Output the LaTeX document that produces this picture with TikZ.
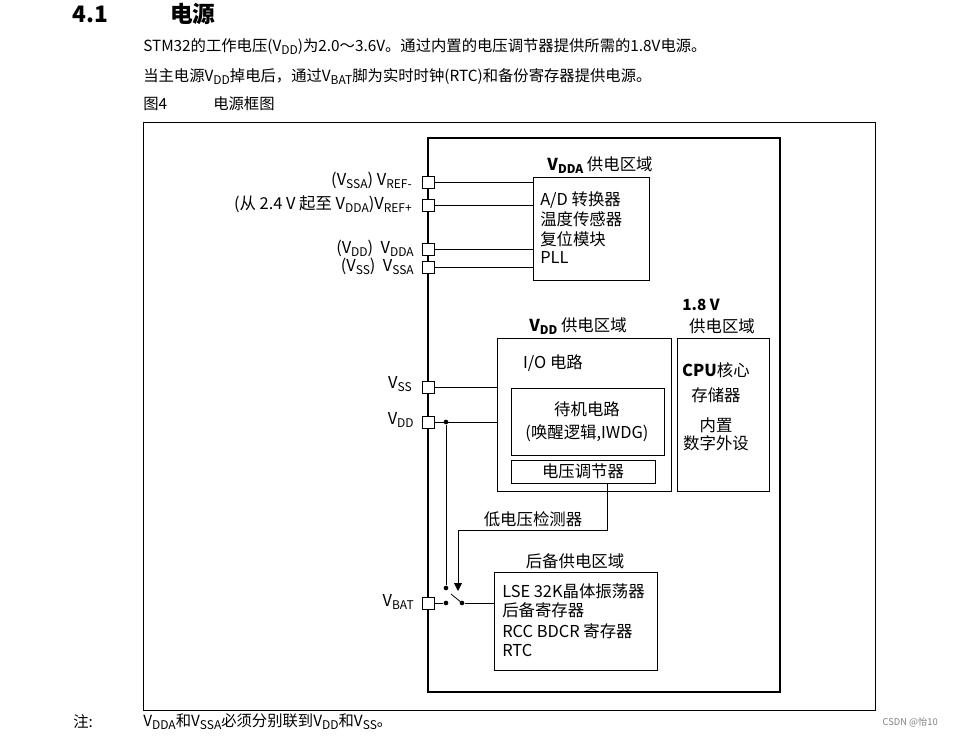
\documentclass[tikz,border=0pt]{standalone}
\usepackage{fontspec}
\setmainfont{Noto Sans CJK SC}
\usetikzlibrary{arrows.meta}
\newcommand{\vsub}[2]{#1\raisebox{-0.35ex}{\fontsize{9}{9}\selectfont #2}}
\begin{document}
\begin{tikzpicture}[x=0.75pt,y=-0.75pt,
  txt/.style={inner sep=0pt,font=\fontsize{11.5}{13}\selectfont},
  lbl/.style={txt,font=\fontsize{12.3}{14}\selectfont},
  box/.style={draw,line width=0.6pt},
  pin/.style={draw,fill=white,line width=0.6pt,minimum size=9pt,inner sep=0pt},
  wire/.style={line width=0.6pt},
  dot/.style={circle,fill,inner sep=0pt,minimum size=3.5pt}]
\useasboundingbox (0,0) rectangle (953,737);
% header
\node[txt,anchor=west,font=\bfseries\fontsize{17}{20}\selectfont] (h1) at (72,14) {4.1};
\node[txt,anchor=west,font=\bfseries\fontsize{17}{20}\selectfont] (h2) at (170,14) {电源};
\node[txt,anchor=west] (t1) at (143,47) {STM32的工作电压(\vsub{V}{DD})为2.0～3.6V。通过内置的电压调节器提供所需的1.8V电源。};
\node[txt,anchor=west] (t2) at (143,77) {当主电源\vsub{V}{DD}掉电后，通过\vsub{V}{BAT}脚为实时时钟(RTC)和备份寄存器提供电源。};
\node[txt,anchor=west] (f1) at (143,104) {图4};
\node[txt,anchor=west] (f2) at (213,104) {电源框图};
% frames
\draw[line width=0.6pt] (143,122) rectangle (875,710);
\draw[line width=1.6pt] (428,138) rectangle (780,692);
% ADC domain
\node[box,minimum width=87pt,minimum height=77pt,anchor=north west] (adc) at (533,177) {};
\node[lbl,anchor=west] at (540,200) {A/D 转换器};
\node[lbl,anchor=west] at (540,219) {温度传感器};
\node[lbl,anchor=west] at (540,239) {复位模块};
\node[lbl,anchor=west] at (540,257) {PLL};
\node[lbl] (vdda) at (600,165) {\textbf{\vsub{V}{DDA}} 供电区域};
% pins
\foreach \n/\y in {p1/182,p2/205,p3/249,p4/267,p5/387,p6/422,p7/603}
  \node[pin] (\n) at (428,\y) {};
\foreach \n in {p1,p2,p3,p4} \draw[wire] (\n.east) -- (\n.east -| adc.west);
\node[lbl,anchor=east] at (412,180) {(\vsub{V}{SSA})\ \vsub{V}{REF-}};
\node[lbl,anchor=east] at (412,204) {(从 2.4 V 起至 \vsub{V}{DDA})\vsub{V}{REF+}};
\node[lbl,anchor=east] at (414,248) {(\vsub{V}{DD})\ \ \vsub{V}{DDA}};
\node[lbl,anchor=east] at (414,266) {(\vsub{V}{SS})\ \ \vsub{V}{SSA}};
\node[lbl,anchor=east] at (412,384) {\vsub{V}{SS}};
\node[lbl,anchor=east] at (414,420) {\vsub{V}{DD}};
\node[lbl,anchor=east] at (414,602) {\vsub{V}{BAT}};
% VDD domain
\node[box,minimum width=130.5pt,minimum height=114.75pt,anchor=north west] (vdd) at (497,338) {};
\node[lbl] at (578,326) {\textbf{\vsub{V}{DD}} 供电区域};
\node[lbl] at (553,363) {I/O 电路};
\node[box,minimum width=114.75pt,minimum height=50pt,anchor=north west] (stb) at (511,388) {};
\node[lbl] at (587,409) {待机电路};
\node[lbl] at (587,433) {(唤醒逻辑,IWDG)};
\node[box,minimum width=108pt,minimum height=17pt,anchor=north west] (reg) at (511,460) {};
\node[lbl] at (583,471.5) {电压调节器};
% 1.8V
\node[box,minimum width=69pt,minimum height=114.75pt,anchor=north west] (cpu) at (677,338) {};
\node[lbl,font=\bfseries\fontsize{11.5}{13}\selectfont] at (701,305) {1.8 V};
\node[lbl] at (722,326) {供电区域};
\node[lbl] at (716,370) {\textbf{CPU}核心};
\node[lbl] at (716,395) {存储器};
\node[lbl] at (716,425) {内置};
\node[lbl] at (716,443) {数字外设};
% wires
\draw[wire] (p5.east) -- (p5.east -| vdd.west);
\draw[wire] (p6.east) -- (p6.east -| vdd.west);
\node[dot] (d1) at (446,422) {};
\node[dot] (d2) at (446,588) {};
\node[dot] (d3) at (446,603) {};
\node[dot] (d4) at (462,603) {};
\draw[wire] (d1) -- (d2);
\draw[wire] (p7.east) -- (d3);
\draw[wire] (d4.center) -- (451,594);
% backup
\node[box,minimum width=122pt,minimum height=73.5pt,anchor=north west] (bk) at (494,572) {};
\draw[wire] (d4) -- (d4 -| bk.west);
\node[lbl] at (575,561) {后备供电区域};
\node[lbl,anchor=west] at (502,591) {LSE 32K晶体振荡器};
\node[lbl,anchor=west] at (502,610) {后备寄存器};
\node[lbl,anchor=west] at (502,631) {RCC BDCR 寄存器};
\node[lbl,anchor=west] at (502,650) {RTC};
% low voltage detector
\coordinate (c1) at (607,530);
\coordinate (c2) at (458,530);
\draw[wire,-{Triangle[length=6pt,width=6pt]}] (reg.south -| c1) -- (c1) -- (c2) -- (458,591);
\node[lbl] at (533,519) {低电压检测器};
% note
\node[txt,anchor=west,font=\itshape\fontsize{11.5}{13}\selectfont] at (73,722) {注:};
\node[txt,anchor=west,font=\itshape\fontsize{11.5}{13}\selectfont] at (143,722) {\vsub{V}{DDA}和\vsub{V}{SSA}必须分别联到\vsub{V}{DD}和\vsub{V}{SS}。};
\node[txt,anchor=east,text=gray,font=\fontsize{7}{8}\selectfont] at (938,722) {CSDN @怡10};
\end{tikzpicture}
\end{document}
